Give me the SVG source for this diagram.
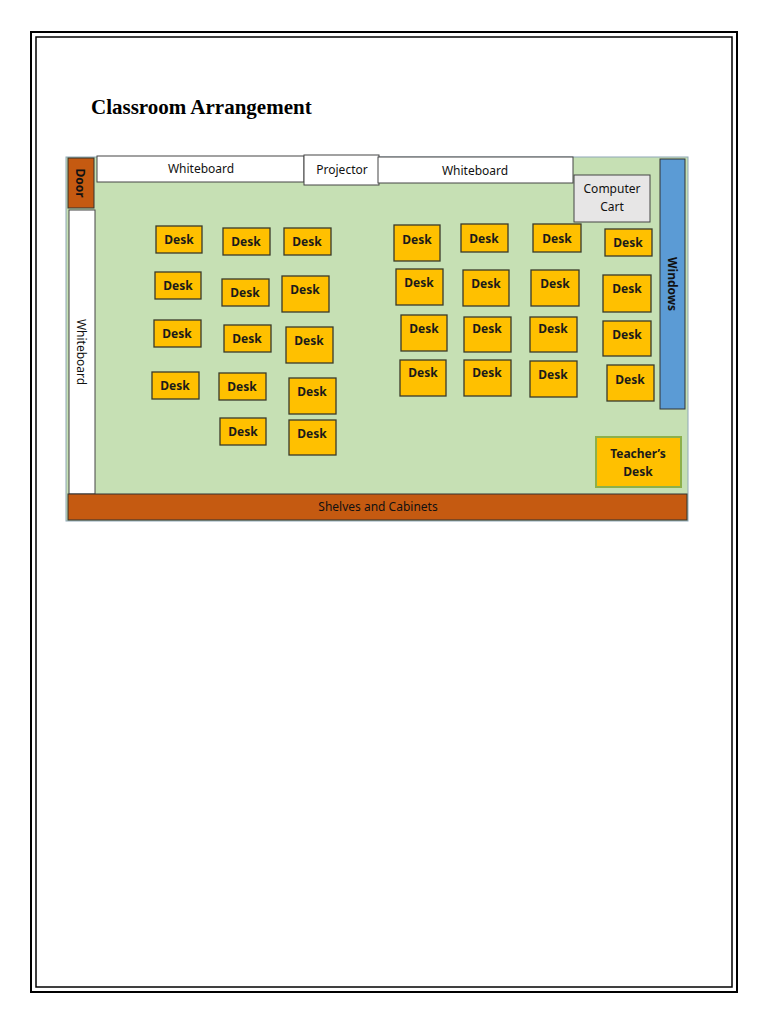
<svg xmlns="http://www.w3.org/2000/svg" width="768" height="1024" viewBox="0 0 768 1024">
<style>
.d rect{fill:#ffc000;stroke:#3a3a2a;stroke-width:1.3}
.d text,.t{font-family:"Noto Sans","Liberation Sans",sans-serif;font-size:12px;font-weight:bold;fill:#1a1a1a;text-anchor:middle}
.w{fill:#fff;stroke:#444;stroke-width:1}
.l{font-family:"Noto Sans","Liberation Sans",sans-serif;font-size:12px;fill:#111;text-anchor:middle}
</style>
<rect width="768" height="1024" fill="#fff"/>
<rect x="31" y="32" width="706" height="960" fill="none" stroke="#000" stroke-width="2"/>
<rect x="36" y="37" width="696" height="950" fill="none" stroke="#000" stroke-width="1.5"/>
<text x="91" y="114" font-family="'Liberation Serif',serif" font-size="21" font-weight="bold">Classroom Arrangement</text>
<g id="room"><rect x="66" y="157" width="622" height="364" fill="#c6e0b4" stroke="#8fa8b8"/></g>
<g id="door"><rect x="68" y="158" width="26" height="50" fill="#c55a11" stroke="#333"/><text class="l" transform="translate(76,183) rotate(90)" font-weight="bold">Door</text></g>
<g id="wb-left"><rect class="w" x="69" y="210" width="26" height="284"/><text class="l" transform="translate(77,352) rotate(90)">Whiteboard</text></g>
<g id="wb1"><rect class="w" x="97" y="156" width="207" height="26"/><text class="l" x="201" y="173">Whiteboard</text></g>
<g id="projector"><rect class="w" x="304" y="155" width="75" height="30"/><text class="l" x="342" y="174">Projector</text></g>
<g id="wb2"><rect class="w" x="378" y="157" width="195" height="26"/><text class="l" x="475" y="175">Whiteboard</text></g>
<g id="cart"><rect x="574" y="175" width="76" height="47" fill="#e7e6e6" stroke="#444"/><text class="l" x="612" y="193">Computer</text><text class="l" x="612" y="211">Cart</text></g>
<g id="windows"><rect x="660" y="159" width="25" height="250" fill="#5b9bd5" stroke="#333"/><text class="l" transform="translate(668,284) rotate(90)" font-weight="bold">Windows</text></g>
<g id="teacher" class="d"><rect x="596" y="437" width="85" height="50" style="stroke:#8db04a;stroke-width:2"/><text x="638" y="458">Teacher’s</text><text x="638" y="476">Desk</text></g>
<g id="shelves"><rect x="68" y="494" width="619" height="26" fill="#c55a11" stroke="#333"/><text class="l" x="378" y="511">Shelves and Cabinets</text></g>
<g class="d">
<g id="d1"><rect x="156" y="226" width="46" height="27"/><text x="179" y="244">Desk</text></g>
<g id="d2"><rect x="155" y="272" width="46" height="27"/><text x="178" y="290">Desk</text></g>
<g id="d3"><rect x="154" y="320" width="47" height="27"/><text x="177" y="338">Desk</text></g>
<g id="d4"><rect x="152" y="372" width="47" height="27"/><text x="175" y="390">Desk</text></g>
<g id="d5"><rect x="223" y="228" width="47" height="27"/><text x="246" y="246">Desk</text></g>
<g id="d6"><rect x="222" y="279" width="47" height="27"/><text x="245" y="297">Desk</text></g>
<g id="d7"><rect x="224" y="325" width="47" height="27"/><text x="247" y="343">Desk</text></g>
<g id="d8"><rect x="219" y="373" width="47" height="27"/><text x="242" y="391">Desk</text></g>
<g id="d9"><rect x="220" y="418" width="46" height="27"/><text x="243" y="436">Desk</text></g>
<g id="d10"><rect x="284" y="228" width="47" height="27"/><text x="307" y="246">Desk</text></g>
<g id="d11"><rect x="282" y="276" width="47" height="36"/><text x="305" y="294">Desk</text></g>
<g id="d12"><rect x="286" y="327" width="47" height="36"/><text x="309" y="345">Desk</text></g>
<g id="d13"><rect x="289" y="378" width="47" height="36"/><text x="312" y="396">Desk</text></g>
<g id="d14"><rect x="289" y="420" width="47" height="35"/><text x="312" y="438">Desk</text></g>
<g id="d15"><rect x="394" y="225" width="46" height="36"/><text x="417" y="244">Desk</text></g>
<g id="d16"><rect x="396" y="269" width="47" height="36"/><text x="419" y="287">Desk</text></g>
<g id="d17"><rect x="401" y="315" width="46" height="36"/><text x="424" y="333">Desk</text></g>
<g id="d18"><rect x="400" y="360" width="46" height="36"/><text x="423" y="377">Desk</text></g>
<g id="d19"><rect x="461" y="224" width="47" height="28"/><text x="484" y="243">Desk</text></g>
<g id="d20"><rect x="463" y="270" width="46" height="36"/><text x="486" y="288">Desk</text></g>
<g id="d21"><rect x="464" y="317" width="47" height="35"/><text x="487" y="333">Desk</text></g>
<g id="d22"><rect x="464" y="360" width="47" height="36"/><text x="487" y="377">Desk</text></g>
<g id="d23"><rect x="533" y="224" width="48" height="28"/><text x="557" y="243">Desk</text></g>
<g id="d24"><rect x="531" y="270" width="48" height="36"/><text x="555" y="288">Desk</text></g>
<g id="d25"><rect x="530" y="317" width="47" height="35"/><text x="553" y="333">Desk</text></g>
<g id="d26"><rect x="530" y="361" width="47" height="36"/><text x="553" y="379">Desk</text></g>
<g id="d27"><rect x="605" y="229" width="47" height="27"/><text x="628" y="247">Desk</text></g>
<g id="d28"><rect x="603" y="275" width="48" height="37"/><text x="627" y="293">Desk</text></g>
<g id="d29"><rect x="603" y="321" width="48" height="35"/><text x="627" y="339">Desk</text></g>
<g id="d30"><rect x="607" y="365" width="47" height="36"/><text x="630" y="384">Desk</text></g>
</g>
<g id="connectors"/>
</svg>
